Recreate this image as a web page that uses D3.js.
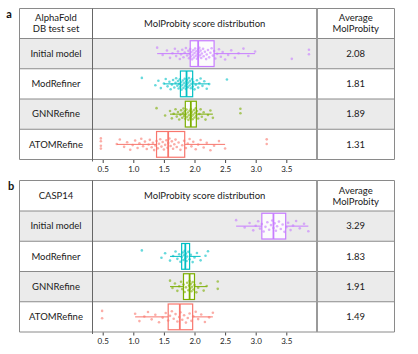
<!DOCTYPE html>
<html>
<head>
<meta charset="utf-8">
<script src="https://cdn.jsdelivr.net/npm/d3@7"></script>
<style>
  body { margin: 0; background: #fff; }
  svg { font-family: Lato, "Open Sans", sans-serif; }
</style>
</head>
<body>
<div id="chart"></div>
<script>
// rows and colours
const methods = ["Initial model", "ModRefiner", "GNNRefine", "ATOMRefine"];
const colors = ["#C77CFF", "#00BFC4", "#7CAE00", "#F8766D"];
const ticks = [0.5, 1.0, 1.5, 2.0, 2.5, 3.0, 3.5];

// average column
const avgA = ["2.08", "1.81", "1.89", "1.31"];
const avgB = ["3.29", "1.83", "1.91", "1.49"];

// box stats: [lower whisker, q1, median, q3, upper whisker]
const boxA = [
  [1.39, 1.93, 2.06, 2.32, 2.99],
  [1.50, 1.77, 1.87, 1.97, 2.24],
  [1.60, 1.85, 1.94, 2.03, 2.30],
  [0.73, 1.38, 1.57, 1.84, 2.50]
];
const boxB = [
  [2.68, 3.10, 3.29, 3.49, 3.86],
  [1.60, 1.79, 1.85, 1.92, 2.10],
  [1.60, 1.82, 1.92, 2.00, 2.20],
  [1.03, 1.57, 1.76, 1.97, 2.30]
];

// individual scores (panel a: AlphaFold DB test set)
const initialA = [1.39, 1.48, 1.55, 1.60, 1.64, 1.68, 1.70, 1.73, 1.76, 1.78, 1.80, 1.82, 1.84, 1.86, 1.88,
  1.90, 1.91, 1.92, 1.93, 1.94, 1.95, 1.96, 1.97, 1.98, 1.99, 2.00, 2.01, 2.02, 2.03, 2.04, 2.05, 2.06,
  2.06, 2.07, 2.08, 2.09, 2.10, 2.11, 2.12, 2.14, 2.15, 2.17, 2.19, 2.20, 2.22, 2.24, 2.26, 2.28, 2.30,
  2.32, 2.34, 2.37, 2.40, 2.43, 2.46, 2.50, 2.55, 2.60, 2.66, 2.72, 2.80, 2.88, 2.99, 3.59, 3.87, 3.87];
const modA = [1.14, 1.36, 1.41, 1.45, 1.50, 1.53, 1.56, 1.59, 1.61, 1.63, 1.65, 1.67, 1.69, 1.70, 1.72,
  1.73, 1.74, 1.75, 1.76, 1.77, 1.78, 1.79, 1.80, 1.81, 1.82, 1.83, 1.84, 1.85, 1.86, 1.86, 1.87, 1.88,
  1.89, 1.90, 1.91, 1.92, 1.93, 1.94, 1.95, 1.96, 1.97, 1.98, 2.00, 2.02, 2.04, 2.06, 2.08, 2.10, 2.13,
  2.16, 2.20, 2.24, 2.53];
const gnnA = [1.38, 1.52, 1.60, 1.63, 1.66, 1.69, 1.71, 1.73, 1.75, 1.77, 1.78, 1.80, 1.81, 1.82, 1.83,
  1.84, 1.85, 1.86, 1.87, 1.88, 1.89, 1.90, 1.91, 1.92, 1.93, 1.94, 1.94, 1.95, 1.96, 1.97, 1.98, 1.99,
  2.00, 2.01, 2.02, 2.03, 2.04, 2.06, 2.08, 2.10, 2.12, 2.15, 2.18, 2.22, 2.26, 2.30, 2.75, 2.75];
const atomA = [0.47, 0.47, 0.47, 0.47, 0.73, 0.78, 0.85, 0.90, 0.95, 0.99, 1.03, 1.07, 1.10, 1.13, 1.16,
  1.19, 1.22, 1.25, 1.27, 1.30, 1.32, 1.34, 1.36, 1.38, 1.40, 1.42, 1.44, 1.46, 1.48, 1.50, 1.52, 1.54,
  1.56, 1.57, 1.59, 1.61, 1.63, 1.65, 1.67, 1.69, 1.71, 1.74, 1.77, 1.80, 1.83, 1.86, 1.89, 1.92, 1.95,
  1.98, 2.02, 2.06, 2.10, 2.15, 2.20, 2.26, 2.32, 2.40, 2.50, 3.18, 3.18];

// individual scores (panel b: CASP14)
const initialB = [2.68, 2.82, 2.90, 2.96, 3.00, 3.04, 3.07, 3.10, 3.13, 3.16, 3.19, 3.22, 3.25, 3.27, 3.29,
  3.31, 3.33, 3.35, 3.38, 3.41, 3.44, 3.47, 3.50, 3.53, 3.57, 3.61, 3.66, 3.72, 3.79, 3.86];
const modB = [1.14, 1.46, 1.52, 1.60, 1.65, 1.69, 1.72, 1.75, 1.77, 1.79, 1.81, 1.82, 1.83, 1.84, 1.85,
  1.86, 1.87, 1.88, 1.90, 1.92, 1.94, 1.97, 2.00, 2.04, 2.10, 2.18, 2.22];
const gnnB = [1.60, 1.64, 1.68, 1.72, 1.75, 1.78, 1.80, 1.82, 1.84, 1.86, 1.88, 1.90, 1.91, 1.92, 1.93,
  1.94, 1.95, 1.96, 1.97, 1.98, 2.00, 2.03, 2.06, 2.10, 2.15, 2.20, 2.38, 2.38];
const atomB = [0.49, 0.49, 1.03, 1.10, 1.18, 1.24, 1.30, 1.36, 1.42, 1.48, 1.53, 1.57, 1.60, 1.63, 1.66,
  1.69, 1.72, 1.75, 1.77, 1.80, 1.83, 1.86, 1.89, 1.92, 1.95, 1.98, 2.02, 2.06, 2.11, 2.17, 2.24, 2.30];

const W = 418, H = 354;
const svg = d3.select("#chart").append("svg").attr("width", W).attr("height", H);

const x = d3.scaleLinear().domain([0.5, 3.5]).range([102.7, 286.3]);

// table columns
const colL = 19.5, colA = 92.5, colB = 317, colR = 394.5;
const lineColor = "#8a8a8a";

function drawPanel(p) {
  let g = svg.append("g");

  let y = d3.scaleBand().domain(methods).range([p.headBottom, p.bottom]);

  // shaded rows
  g.selectAll(".rowbg")
    .data(methods)
    .enter()
    .append("rect")
    .attr("x", colL)
    .attr("y", (d) => y(d))
    .attr("width", colR - colL)
    .attr("height", y.bandwidth())
    .attr("fill", (d, i) => (i % 2 === 0 ? "#ebebeb" : "#ffffff"));

  // boxes, whiskers, points
  methods.forEach((m, i) => {
    let b = p.boxes[i];
    let cy = y(m) + y.bandwidth() / 2;
    let bh = y.bandwidth() - 4.5;
    let c = colors[i];

    g.append("line")
      .attr("x1", x(b[0])).attr("x2", x(b[1]))
      .attr("y1", cy).attr("y2", cy)
      .attr("stroke", c).attr("stroke-width", 1);
    g.append("line")
      .attr("x1", x(b[3])).attr("x2", x(b[4]))
      .attr("y1", cy).attr("y2", cy)
      .attr("stroke", c).attr("stroke-width", 1);

    g.append("rect")
      .attr("x", x(b[1]))
      .attr("y", cy - bh / 2)
      .attr("width", x(b[3]) - x(b[1]))
      .attr("height", bh)
      .attr("fill", "#ffffff")
      .attr("fill-opacity", 0.85)
      .attr("stroke", c)
      .attr("stroke-width", 1.2);

    // jittered points (deterministic vertical offset)
    g.selectAll(".pt" + i)
      .data(p.points[i])
      .enter()
      .append("circle")
      .attr("cx", (d) => x(d))
      .attr("cy", (d, k) => cy + (((k * 0.618034) % 1) - 0.5) * 12)
      .attr("r", 1.3)
      .attr("fill", c)
      .attr("fill-opacity", 0.6);

    g.append("line")
      .attr("x1", x(b[2])).attr("x2", x(b[2]))
      .attr("y1", cy - bh / 2).attr("y2", cy + bh / 2)
      .attr("stroke", c).attr("stroke-width", 1.8);

    // first column label
    g.append("text")
      .attr("x", (colL + colA) / 2)
      .attr("y", cy)
      .attr("dy", "0.35em")
      .attr("text-anchor", "middle")
      .attr("font-size", 9.5)
      .attr("fill", "#1a1a1a")
      .text(m);

    // average column
    g.append("text")
      .attr("x", (colB + colR) / 2)
      .attr("y", cy)
      .attr("dy", "0.35em")
      .attr("text-anchor", "middle")
      .attr("font-size", 9.5)
      .attr("fill", "#1a1a1a")
      .text(p.avgs[i]);
  });

  // horizontal rules
  let hs = [p.top, p.headBottom].concat(methods.map((m) => y(m) + y.bandwidth()));
  g.selectAll(".hline")
    .data(hs)
    .enter()
    .append("line")
    .attr("x1", colL).attr("x2", colR)
    .attr("y1", (d) => d).attr("y2", (d) => d)
    .attr("stroke", lineColor)
    .attr("stroke-width", 1);

  // vertical rules
  g.append("line")
    .attr("x1", colL).attr("x2", colL)
    .attr("y1", p.top).attr("y2", p.bottom)
    .attr("stroke", lineColor);
  g.append("line")
    .attr("x1", colA).attr("x2", colA)
    .attr("y1", p.top).attr("y2", p.bottom + 2)
    .attr("stroke", "#666");
  g.append("line")
    .attr("x1", colB).attr("x2", colB)
    .attr("y1", p.top).attr("y2", p.bottom)
    .attr("stroke", "#9a9a9a").attr("stroke-width", 2);
  g.append("line")
    .attr("x1", colR).attr("x2", colR)
    .attr("y1", p.top).attr("y2", p.bottom)
    .attr("stroke", lineColor);

  // header
  let hy = (p.top + p.headBottom) / 2;
  let hdr = g.append("g").attr("font-size", 9.5).attr("fill", "#1a1a1a").attr("text-anchor", "middle");
  p.head1.forEach((t, k) => {
    hdr.append("text")
      .attr("x", (colL + colA) / 2)
      .attr("y", hy + (k - (p.head1.length - 1) / 2) * 11)
      .attr("dy", "0.35em")
      .text(t);
  });
  hdr.append("text")
    .attr("x", (colA + colB) / 2)
    .attr("y", hy)
    .attr("dy", "0.35em")
    .text("MolProbity score distribution");
  ["Average", "MolProbity"].forEach((t, k) => {
    hdr.append("text")
      .attr("x", (colB + colR) / 2)
      .attr("y", hy + (k - 0.5) * 11)
      .attr("dy", "0.35em")
      .text(t);
  });

  // axis
  let axis = d3.axisBottom(x)
    .tickValues(ticks)
    .tickSize(3)
    .tickPadding(3)
    .tickFormat(d3.format(".1f"));
  let ax = g.append("g")
    .attr("transform", `translate(0, ${p.bottom + 0.5})`)
    .call(axis);
  ax.select(".domain").remove();
  ax.selectAll(".tick line").attr("stroke", "#444");
  ax.selectAll(".tick text")
    .attr("font-family", "Lato, sans-serif")
    .attr("font-size", 8)
    .attr("fill", "#222");

  // panel letter
  g.append("text")
    .attr("x", p.letterX)
    .attr("y", p.top + 9)
    .attr("text-anchor", "middle")
    .attr("font-size", 11)
    .attr("font-weight", "bold")
    .attr("fill", "#111")
    .text(p.letter);
}

drawPanel({
  top: 8.5, headBottom: 38.5, bottom: 159.5,
  boxes: boxA, points: [initialA, modA, gnnA, atomA], avgs: avgA,
  head1: ["AlphaFold", "DB test set"], letter: "a", letterX: 9
});

drawPanel({
  top: 180.5, headBottom: 211, bottom: 332,
  boxes: boxB, points: [initialB, modB, gnnB, atomB], avgs: avgB,
  head1: ["CASP14"], letter: "b", letterX: 11
});
</script>
</body>
</html>
